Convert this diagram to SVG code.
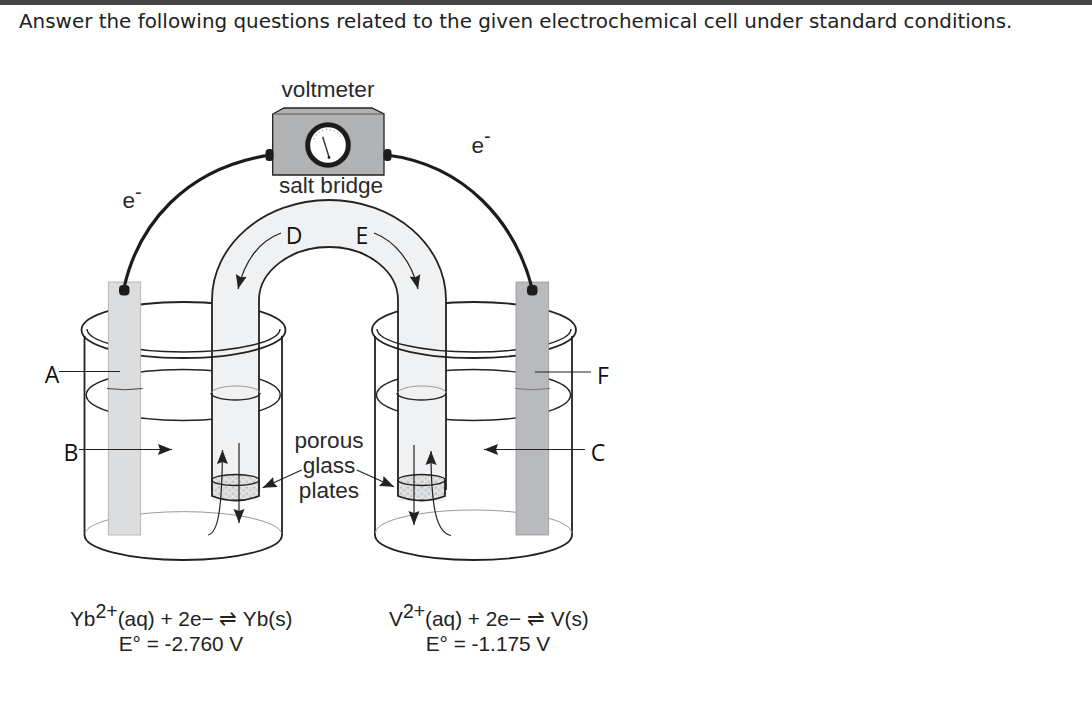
<svg xmlns="http://www.w3.org/2000/svg" width="1092" height="721" viewBox="0 0 1092 721">
<style>
.q{font-family:"DejaVu Sans",Verdana,sans-serif;font-size:19.92px;fill:#222}
.h{font-family:"Liberation Sans",Arial,sans-serif;font-size:22.6px;fill:#2a2a2a;text-anchor:middle}
.e{font-family:"Liberation Sans",Arial,sans-serif;font-size:22.6px;fill:#2a2a2a}
.eq{font-family:"Liberation Sans",Arial,sans-serif;font-size:20.8px;fill:#222}
.m{text-anchor:middle}
.l{font-family:"Open Sans",sans-serif;font-size:23px;fill:#111;text-anchor:middle}
.s{fill:none;stroke:#222;stroke-width:1.8}
.n{fill:none;stroke:#222;stroke-width:1.4}
.t{fill:none;stroke:#999;stroke-width:1}
.c{fill:none;stroke:#222;stroke-width:1.2}
.w{fill:none;stroke:#1c1c1c;stroke-width:3.2}
.a{marker-end:url(#ah)}
</style>
<defs>
<marker id="ah" markerUnits="userSpaceOnUse" markerWidth="16" markerHeight="14" refX="14" refY="6" orient="auto" viewBox="0 0 16 12"><path d="M14 6L0 0.5L2 6L0 11.5Z" fill="#222"/></marker>
<pattern id="stip" patternUnits="userSpaceOnUse" width="7" height="6"><rect width="7" height="6" fill="#dcddde"/><rect x="1" y="1" width="2" height="1.5" fill="#bbbcbe"/><rect x="4.5" y="3.5" width="2" height="1.5" fill="#c4c5c7"/><rect x="4" y="0.5" width="1.5" height="1" fill="#f2f2f2"/><rect x="1" y="4" width="1.5" height="1" fill="#f2f2f2"/></pattern>
</defs>
<rect width="1092" height="721" fill="#fff"/>
<rect width="1092" height="5" fill="#454545"/>
<text class="q" x="19" y="27.5">Answer the following questions related to the given electrochemical cell under standard conditions.</text>

<g id="beaker-left">
<path class="s" d="M84.5 336V535A98.75 25 0 0 0 282 535V336"/>
<path class="t" d="M85 533A98.5 23 0 0 1 281.500 533"/>
<ellipse class="n" cx="183.200" cy="395" rx="97" ry="25.500"/>
<path class="s" d="M81.500 330A102 28 0 0 1 285.500 330"/>
</g>
<g id="beaker-right">
<path class="s" d="M375 336V535A98.500 25 0 0 0 572 535V336"/>
<path class="t" d="M375.500 533A98 23 0 0 1 571.500 533"/>
<ellipse class="n" cx="473.500" cy="395" rx="97" ry="25.500"/>
<path class="s" d="M372 330A102 28 0 0 1 576 330"/>
</g>
<g id="salt-bridge">
<path d="M212 501V300C212 245 264 200 329 200S446 245 446 300V501H398V300C398 271 367 247 329 247S259 271 259 300V501Z" fill="#f0f1f3"/>
<path class="s" d="M212 490V300C212 245 264 200 329 200S446 245 446 300V490M398 490V300C398 271 367 247 329 247S259 271 259 300V490"/>
<path class="t" d="M212 393A24 7 0 0 1 260 393M398 393A24 7 0 0 1 446 393"/>
<path class="n" d="M211 393A24.500 7 0 0 0 260 393M397 393A24.500 7 0 0 0 446 393"/>
</g>
<g id="rim-left">
<path class="s" d="M81.500 330A102 28 0 0 0 285.500 330"/>
<path class="n" d="M87 329A96.500 23 0 0 0 280 329"/>
</g>
<g id="rim-right">
<path class="s" d="M372 330A102 28 0 0 0 576 330"/>
<path class="n" d="M377 329A97 23 0 0 0 571 329"/>
</g>
<g id="electrode-left">
<rect x="108.300" y="282" width="32.400" height="253" fill="#dcddde" stroke="#aaa" stroke-width="0.8"/>
<path d="M107 388.500Q125 391 142.700 388.500" fill="none" stroke="#444" stroke-width="1"/>
</g>
<g id="electrode-right">
<rect x="516" y="282" width="32.700" height="253" fill="#b9babd" stroke="#999" stroke-width="0.8"/>
<path d="M515 388.500Q532 391 550 388.500" fill="none" stroke="#777" stroke-width="1"/>
</g>
<g id="plate-left">
<path d="M212 480V497Q236 505 259 497V480Z" fill="url(#stip)"/>
<ellipse cx="235.500" cy="480" rx="23.500" ry="5.500" fill="url(#stip)" stroke="#222" stroke-width="1.400"/>
<path class="s" d="M212 480V496Q236 505 259 496V480" stroke-width="2"/>
</g>
<g id="plate-right">
<path d="M398 480V497Q422 505 445 497V480Z" fill="url(#stip)"/>
<ellipse cx="421.500" cy="480" rx="23.500" ry="5.500" fill="url(#stip)" stroke="#222" stroke-width="1.400"/>
<path class="s" d="M398 480V496Q422 505 445 496V480" stroke-width="2"/>
</g>
<g id="voltmeter">
<path d="M272.700 114L284 108H372L384 114V175H272.700Z" fill="#b1b2b4" stroke="#222" stroke-width="1.300"/>
<path d="M272.700 114H384" stroke="#444" stroke-width="0.8"/>
<circle cx="328" cy="145" r="20.300" fill="#fff" stroke="#1c1c1c" stroke-width="5"/>
<path d="M314 139A15 15 0 0 1 342 139" fill="none" stroke="#aaa" stroke-width="1.500" stroke-dasharray="1 3"/>
<path d="M322.700 136.700L329 157" stroke="#333" stroke-width="1.400"/>
<circle cx="329" cy="157.500" r="1.400" fill="#222"/>
<text class="h" x="328" y="97">voltmeter</text>
</g>
<g id="connectors">
<path class="w" d="M124 288C138 225 185 168 270 155"/>
<path class="w" d="M387 155C465 165 515 222 532 288"/>
<rect x="265.500" y="149" width="8" height="12" rx="3.500" fill="#1c1c1c"/>
<rect x="383.500" y="149" width="8" height="12" rx="3.500" fill="#1c1c1c"/>
<rect x="119" y="285" width="10.500" height="10.500" rx="4" fill="#1c1c1c"/>
<rect x="527" y="285" width="10.500" height="10.500" rx="4" fill="#1c1c1c"/>
<path class="c" d="M59 371.500H120M535 372H591"/>
<path class="c a" d="M79 449.500H172"/>
<path class="c a" d="M585 449.500H484"/>
<path class="c a" d="M281 233C260 241 245 260 238 289"/>
<path class="c a" d="M374 233C395 241 412 262 418 289"/>
<path class="c a" d="M301.700 470L262.700 487.700"/>
<path class="c a" d="M356.700 470L394 486.700"/>
<path class="c a" d="M239 443V523"/>
<path class="c a" d="M414 445V525"/>
<path class="c a" d="M208 535C218 533 222 510 222.500 450"/>
<path class="c a" d="M451 535.500C437 533 431 510 431 451"/>
</g>
<g id="labels">
<text class="h" x="331" y="193">salt bridge</text>
<text class="h" x="329" y="448">porous</text>
<text class="h" x="329" y="473">glass</text>
<text class="h" x="329" y="498">plates</text>
<text class="e" x="122.500" y="208">e<tspan dy="-9" font-size="20">-</tspan></text>
<text class="e" x="471.500" y="153">e<tspan dy="-10" font-size="20">-</tspan></text>
<text class="l" x="52" y="383">A</text>
<text class="l" x="71" y="461">B</text>
<text class="l" x="603" y="384">F</text>
<text class="l" x="598" y="461">C</text>
<text class="l" x="294" y="244">D</text>
<text class="l" x="362" y="244">E</text>
</g>
<g id="equations">
<text class="eq" x="70" y="626">Yb<tspan dy="-8" font-size="19.500">2+</tspan><tspan dy="8">(aq) + 2e− ⇌ Yb(s)</tspan></text>
<text class="eq m" x="181" y="651">E° = -2.760 V</text>
<text class="eq" x="389" y="626">V<tspan dy="-8" font-size="19.500">2+</tspan><tspan dy="8">(aq) + 2e− ⇌ V(s)</tspan></text>
<text class="eq m" x="488" y="651">E° = -1.175 V</text>
</g>
</svg>
